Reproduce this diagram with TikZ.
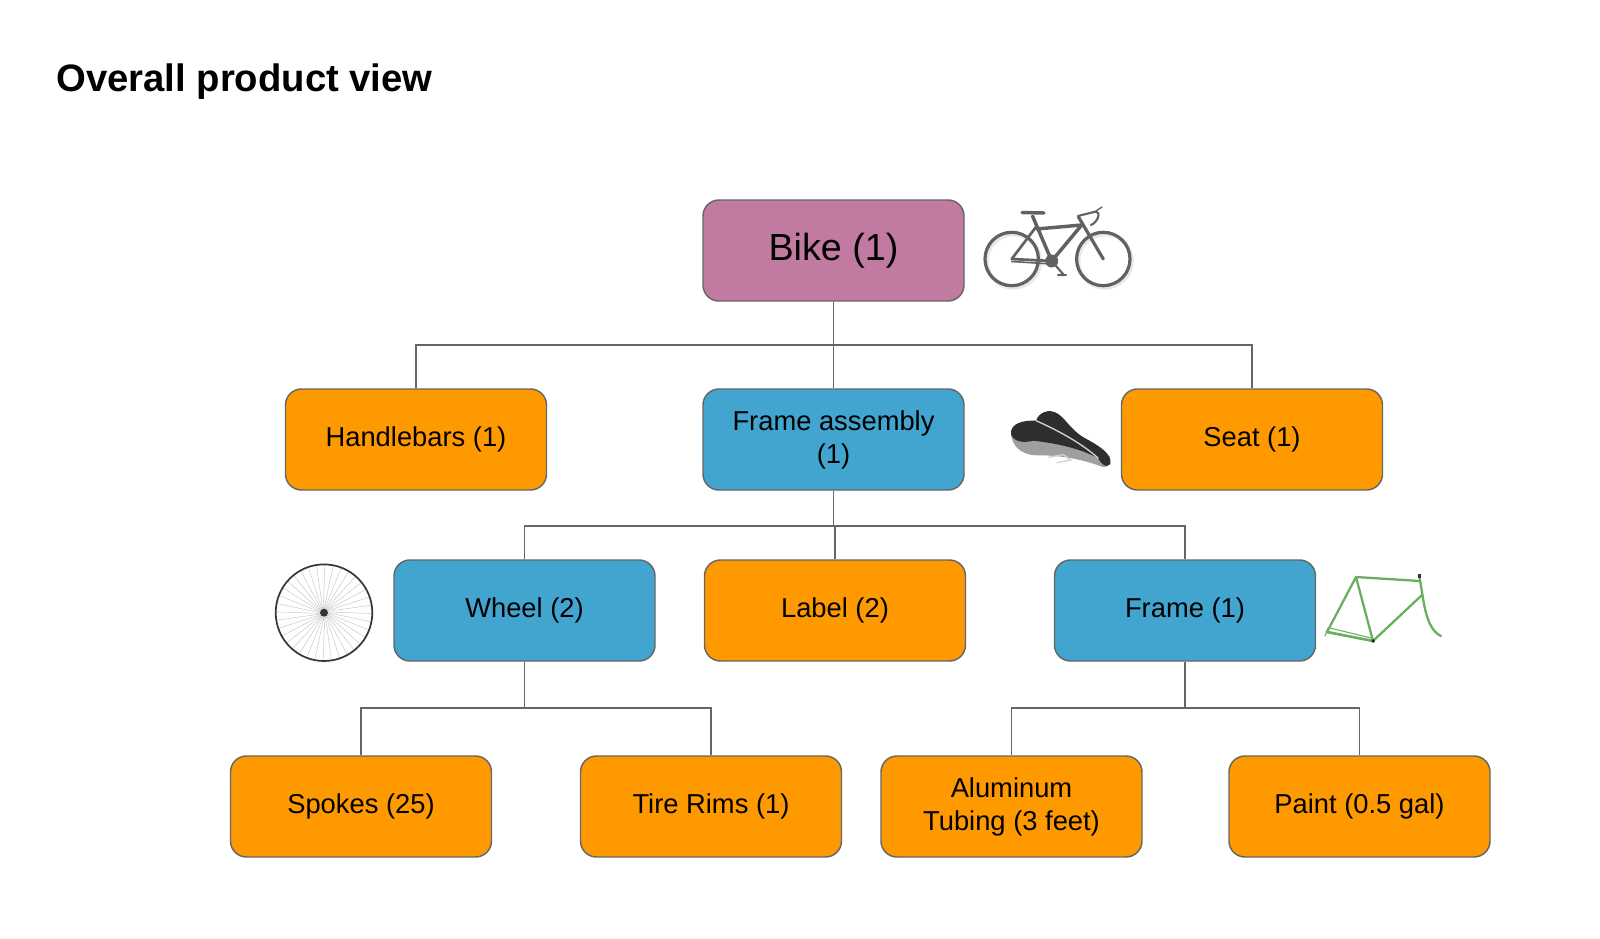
\documentclass[tikz,border=0pt]{standalone}
\usepackage{fontspec}
\setmainfont{Liberation Sans}
\usepackage{tikz}
\usetikzlibrary{positioning}
\definecolor{bikepink}{HTML}{C27BA0}
\definecolor{asmblue}{HTML}{41A5D0}
\definecolor{partorange}{HTML}{FF9900}
\definecolor{edgegray}{HTML}{666666}
\definecolor{framegreen}{HTML}{69AD5F}
\tikzset{
  box/.style={rectangle, draw=edgegray, line width=1.1pt, rounded corners=12pt, inner sep=0pt,
    minimum width=195.75pt, minimum height=75.75pt, align=center,
    font=\fontsize{20.5}{24.75}\selectfont},
  part/.style={box, fill=partorange},
  asm/.style={box, fill=asmblue},
  conn/.style={draw=edgegray, line width=1.1pt},
  icon/.style={draw=#1, line cap=round, line join=round}
}
\begin{document}
\begin{tikzpicture}[x=0.75pt, y=-0.75pt]
    \useasboundingbox (0,0) rectangle (1600,939);

    % Title
    \node[anchor=base west, inner sep=0pt, font=\fontsize{28.7}{34}\selectfont\bfseries] (title) at (56,91.5) {Overall product view};

    % Top of the tree
    \node[box, fill=bikepink, font=\fontsize{28.3}{34}\selectfont] (bike) at (833.5,250.5) {Bike (1)};

    % Second row
    \node[part] (handlebars) at (416,439.5) {Handlebars (1)};
    \node[asm] (frameasm) at (833.5,439.5) {Frame assembly\\(1)};
    \node[part] (seat) at (1252,439.5) {Seat (1)};

    % Third row
    \node[asm] (wheel) at (524.5,610.5) {Wheel (2)};
    \node[part] (label) at (835,610.5) {Label (2)};
    \node[asm] (frame) at (1185,610.5) {Frame (1)};

    % Fourth row
    \node[part] (spokes) at (361,806.5) {Spokes (25)};
    \node[part] (rims) at (711,806.5) {Tire Rims (1)};
    \node[part] (tubing) at (1011.5,806.5) {Aluminum\\Tubing (3 feet)};
    \node[part] (paint) at (1359.5,806.5) {Paint (0.5 gal)};

    % Connectors
    \coordinate (busa) at (833.5,345);
    \coordinate (busb) at (833.5,526);
    \coordinate (busc) at (524.5,708);
    \coordinate (busd) at (1185,708);
    \draw[conn] (bike) -- (frameasm);
    \draw[conn] (busa) -| (handlebars.north);
    \draw[conn] (busa) -| (seat.north);
    \draw[conn] (frameasm) -- (busb);
    \draw[conn] (busb) -| (wheel.north);
    \draw[conn] (busb) -| (label.north);
    \draw[conn] (busb) -| (frame.north);
    \draw[conn] (wheel) -- (busc);
    \draw[conn] (busc) -| (spokes.north);
    \draw[conn] (busc) -| (rims.north);
    \draw[conn] (frame) -- (busd);
    \draw[conn] (busd) -| (tubing.north);
    \draw[conn] (busd) -| (paint.north);

    % Bike icon
    \draw[icon=gray!18, line width=3pt] (1013.5,261) circle (26.7) (1105,261) circle (26.7);
    \draw[icon=black!62, line width=2.4pt] (1011.7,259) circle (26.7) (1103.3,259) circle (26.7);
    \draw[icon=black!62, line width=2.6pt] (1032.5,216) -- (1051.7,261) -- (1081.7,225) -- (1036.7,229);
    \draw[icon=black!62, line width=2pt] (1036,227) -- (1011.7,259) -- (1051.7,261);
    \draw[icon=black!62, line width=1.2pt] (1011.7,261.5) -- (1051.7,264);
    \draw[icon=black!62, line width=2.4pt] (1078.5,217) -- (1103.3,259);
    \draw[icon=black!62, line width=2.6pt] (1022,212.5) -- (1044,213);
    \draw[icon=black!62, line width=1.6pt] (1078,216) -- (1096,211.5) .. controls (1101,212) and (1098,222) .. (1091,225);
    \draw[icon=black!62, line width=1pt] (1096,211) -- (1102,207);
    \draw[icon=black!62, line width=1.6pt] (1051.7,261) -- (1063,274) (1058,275) -- (1066,275);
    \fill[black!62] (1051.7,261) circle (6.5);

    % Saddle icon
    \begin{scope}[shift={(680,180)}, x=0.25pt, y=-0.25pt]
      \fill[gray!75] (993,760) .. controls (995,795) and (1020,825) .. (1070,826)
        .. controls (1130,825) and (1200,835) .. (1265,860) .. controls (1285,865) and (1293,850) .. (1290,830)
        -- (1150,740) -- (1000,740) -- cycle;
      \fill[black!82] (993,762) .. controls (990,730) and (1030,720) .. (1068,722)
        .. controls (1075,700) and (1105,682) .. (1135,702)
        .. controls (1165,725) and (1175,755) .. (1225,780)
        .. controls (1270,805) and (1295,825) .. (1291,852) .. controls (1280,865) and (1265,855) .. (1255,835)
        .. controls (1200,805) and (1130,790) .. (1060,782) .. controls (1030,790) and (1000,785) .. (993,762) -- cycle;
      \draw[gray!35, line width=1pt] (1068,722) .. controls (1120,745) and (1200,785) .. (1255,835);
      \draw[gray!35, line width=1pt] (1105,832) -- (1150,824) -- (1172,840) -- (1130,848);
    \end{scope}

    % Wheel icon
    \foreach \ang in {0,10,...,350}
      \draw[gray!45, line width=0.35pt] (324,612.7) ++(\ang:4) -- ++(\ang+12:44);
    \draw[black!78, line width=1.3pt] (324,612.7) circle (48.3);
    \fill[black!80] (324,612.7) circle (4);

    % Frame icon
    \draw[icon=framegreen, line width=1.7pt] (1356,577) -- (1420,581) (1356,577) -- (1373,641)
      (1373,641) -- (1422,595) (1356,577) -- (1327,632);
    \draw[icon=framegreen, line width=2pt] (1327,632) -- (1373,641);
    \draw[icon=framegreen, line width=1.7pt] (1419.5,577) -- (1422.5,595) .. controls (1426,620) and (1432,632) .. (1441,636);
    \draw[icon=framegreen, line width=0.8pt] (1330,628) -- (1371,638) (1325,636) -- (1328,628);
    \fill[black!85] (1373.3,641) circle (1.9);
    \fill[black!80] (1418,574) rectangle (1420.5,578);
\end{tikzpicture}
\end{document}
